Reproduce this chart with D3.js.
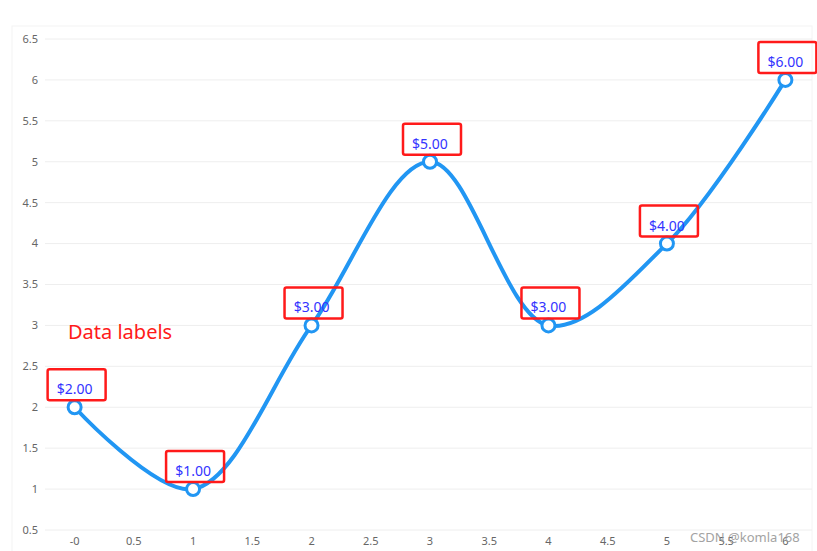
<!DOCTYPE html>
<html><head><meta charset="utf-8">
<script src="https://cdn.jsdelivr.net/npm/d3@7"></script>
<style>body{margin:0;background:#fff}svg{font-family:"Microsoft YaHei","Noto Sans",sans-serif}</style>
</head><body>
<svg id="chart" width="817" height="551"></svg>
<script>
const xValues = [0, 1, 2, 3, 4, 5, 6];
const yValues = [2, 1, 3, 5, 3, 4, 6];
const xTicks = [0, 0.5, 1, 1.5, 2, 2.5, 3, 3.5, 4, 4.5, 5, 5.5, 6];
const yTicks = [0.5, 1, 1.5, 2, 2.5, 3, 3.5, 4, 4.5, 5, 5.5, 6, 6.5];

const svg = d3.select("#chart");
const x = d3.scaleLinear().domain([-0.25, 6.25]).range([45, 815]);
const y = d3.scaleLinear().domain([0.5, 6.5]).range([530, 39]);

// faint frame
svg.append("rect").attr("x", 12).attr("y", 26).attr("width", 800).attr("height", 530)
    .attr("fill", "none").attr("stroke", "#f4f4f4");

svg.selectAll(".grid").data(yTicks).enter().append("line")
    .attr("x1", 45).attr("x2", 812)
    .attr("y1", d => y(d)).attr("y2", d => y(d))
    .attr("stroke", "#eeeeee");

svg.selectAll(".yl").data(yTicks).enter().append("text")
    .attr("x", 38).attr("y", d => y(d)).attr("dy", "0.35em")
    .attr("text-anchor", "end").attr("font-size", 11).attr("fill", "#666")
    .text(d => d);

svg.selectAll(".xl").data(xTicks).enter().append("text")
    .attr("x", d => x(d)).attr("y", 545)
    .attr("text-anchor", "middle").attr("font-size", 11).attr("fill", "#666")
    .text(d => d === 0 ? "-0" : d);

const pts = xValues.map((v, i) => [v, yValues[i]]);
const line = d3.line().x(d => x(d[0])).y(d => y(d[1])).curve(d3.curveCatmullRom.alpha(0.5));
svg.append("path").attr("d", line(pts)).attr("fill", "none")
    .attr("stroke", "#2196f3").attr("stroke-width", 4);

svg.selectAll(".pt").data(pts).enter().append("circle")
    .attr("cx", d => x(d[0])).attr("cy", d => y(d[1])).attr("r", 6.5)
    .attr("fill", "#fff").attr("stroke", "#2196f3").attr("stroke-width", 3);

svg.selectAll(".box").data(pts).enter().append("rect")
    .attr("x", d => x(d[0]) - 27).attr("y", d => y(d[1]) - 38)
    .attr("width", 58).attr("height", 31).attr("rx", 2)
    .attr("fill", "none").attr("stroke", "#ff1a1a").attr("stroke-width", 2.5);

svg.selectAll(".lbl").data(pts).enter().append("text")
    .attr("x", d => x(d[0])).attr("y", d => y(d[1]) - 13)
    .attr("text-anchor", "middle").attr("font-size", 14).attr("fill", "#3333ff")
    .text(d => "$" + d[1].toFixed(2));

svg.append("text").attr("x", 68).attr("y", 339).attr("font-size", 20)
    .attr("fill", "#ff1a1a").text("Data labels");

svg.append("text").attr("x", 690).attr("y", 542).attr("font-size", 13)
    .attr("fill", "#999").attr("opacity", 0.9).text("CSDN @komla168");
</script>
</body></html>
